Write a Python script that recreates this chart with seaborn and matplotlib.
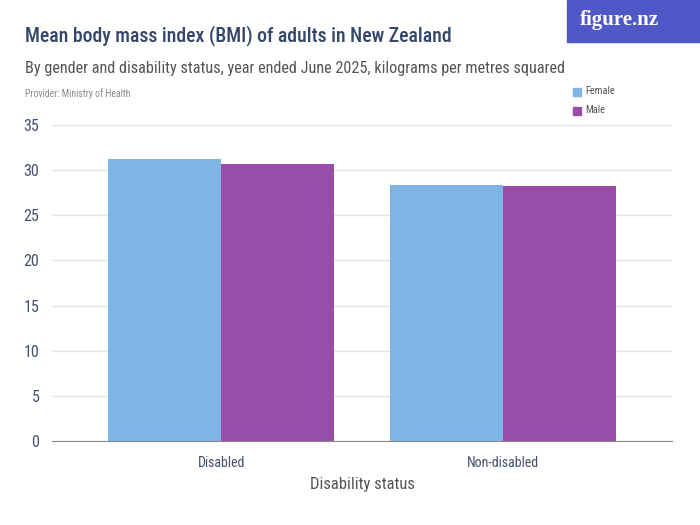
import matplotlib.pyplot as plt
import seaborn as sns
import pandas as pd
from matplotlib.patches import Rectangle

# values
STATUS = ["Disabled", "Non-disabled"]
FEMALE = [31.2, 28.4]
MALE = [30.7, 28.2]
GENDERS = ["Female", "Male"]
COLOURS = {"Female": "#7fb5e4", "Male": "#984ea8"}
Y_TICKS = [0, 5, 10, 15, 20, 25, 30, 35]

FONT = ["Roboto Condensed", "Liberation Sans Narrow", "Roboto", "DejaVu Sans"]


def main():
    df = pd.DataFrame({
        "status": STATUS * 2,
        "gender": ["Female"] * len(FEMALE) + ["Male"] * len(MALE),
        "bmi": FEMALE + MALE,
    })

    sns.set_style("white")
    plt.rcParams["font.family"] = FONT

    fig = plt.figure(figsize=(7, 5.25), dpi=100)
    ax = fig.add_axes([52 / 700, 1 - 441 / 525, 620 / 700, 316 / 525])

    sns.barplot(data=df, x="status", y="bmi", hue="gender", hue_order=GENDERS,
                palette=COLOURS, width=0.8, saturation=1, linewidth=0,
                ax=ax, legend=False)

    ax.set_xlim(-0.6, 1.6)
    ax.set_ylim(0, 35)
    ax.set_yticks(Y_TICKS)
    ax.yaxis.grid(True, color="#e3e3e3", linewidth=1)
    ax.set_axisbelow(True)
    for side in ["top", "right", "left"]:
        ax.spines[side].set_visible(False)
    ax.spines["bottom"].set_color("#8a8a8a")
    ax.tick_params(axis="y", length=0, pad=9, labelsize=11.5, labelcolor="#44506c")
    ax.tick_params(axis="x", length=5, color="#8a8a8a", labelsize=10,
                   labelcolor="#44506c", pad=6)
    ax.set_ylabel("")
    ax.set_xlabel("Disability status", fontsize=12, color="#555555", labelpad=5)

    # titles
    fig.text(25 / 700, 1 - 36 / 525, "Mean body mass index (BMI) of adults in New Zealand",
             fontsize=14.2, fontweight="medium", color="#34476a", va="center")
    fig.text(25 / 700, 1 - 69 / 525,
             "By gender and disability status, year ended June 2025, kilograms per metres squared",
             fontsize=11.7, color="#555555", va="center")
    fig.text(25 / 700, 1 - 94 / 525, "Provider: Ministry of Health",
             fontsize=7, color="#8a8a8a", va="center")

    # legend
    for i, g in enumerate(GENDERS):
        y = 1 - (92 + i * 19) / 525
        fig.patches.append(Rectangle((573 / 700, y - 4 / 525), 8 / 700, 8 / 525,
                                     transform=fig.transFigure, color=COLOURS[g]))
        fig.text(585 / 700, y + 1 / 525, g, fontsize=7.5, color="#555555", va="center")

    # logo box
    fig.patches.append(Rectangle((567 / 700, 1 - 42 / 525), 133 / 700, 42 / 525,
                                 transform=fig.transFigure, color="#5058c8"))
    fig.text(619 / 700, 1 - 20 / 525, "figure.nz", fontsize=15, color="white",
             family=["Liberation Serif", "DejaVu Serif"], fontweight="bold",
             ha="center", va="center")

    fig.savefig("out.png", dpi=100)


if __name__ == '__main__':
    main()
